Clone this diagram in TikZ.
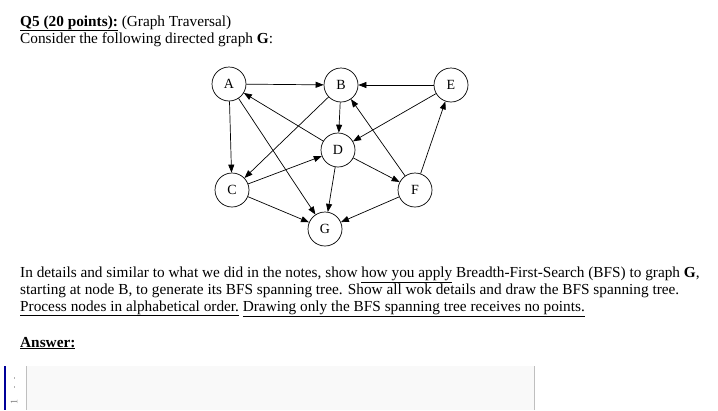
\documentclass[tikz,border=0pt]{standalone}
\usepackage{fontspec}
\setmainfont{Liberation Serif}
\usetikzlibrary{arrows.meta}
\newcommand\myul[1]{\underline{#1}}
\begin{document}
\begin{tikzpicture}[x=1pt,y=-1pt,
  vtx/.style={draw,circle,minimum size=34pt,inner sep=0pt,line width=0.7pt,font=\fontsize{14}{14}\selectfont},
  edge/.style={-{Triangle[length=8pt,width=6pt]},line width=0.7pt},
  txt/.style={anchor=base west,inner sep=0pt,font=\fontsize{15.3}{17}\selectfont}]
\useasboundingbox (0,0) rectangle (718,410);
\node[txt] (t1) at (20,26) {\textbf{\myul{Q5 (20 points):}} (Graph Traversal)};
\node[txt] (t2) at (20,43) {Consider the following directed graph \textbf{G}:};
\node[vtx] (A) at (229,84) {A};
\node[vtx] (B) at (341,85) {B};
\node[vtx] (E) at (451,85) {E};
\node[vtx] (D) at (338,150) {D};
\node[vtx] (C) at (232,190) {C};
\node[vtx] (F) at (415,190) {F};
\node[vtx] (G) at (325,229) {G};
\draw[edge] (A)--(B);
\draw[edge] (E)--(B);
\draw[edge] (A)--(C);
\draw[edge] (A)--(G);
\draw[edge] (B)--(D);
\draw[edge] (B)--(C);
\draw[edge] (D)--(A);
\draw[edge] (E)--(D);
\draw[edge] (C)--(D);
\draw[edge] (D)--(F);
\draw[edge] (D)--(G);
\draw[edge] (C)--(G);
\draw[edge] (F)--(B);
\draw[edge] (F)--(E);
\draw[edge] (F)--(G);
\node[txt] (p1) at (20,277) {In details and similar to what we did in the notes, show \myul{how you apply} Breadth-First-Search (BFS) to graph \textbf{G},};
\node[txt] (p2) at (20,294) {starting at node B, to generate its BFS spanning tree. Show all wok details and draw the BFS spanning tree.};
\node[txt] (p3) at (20,311) {\myul{Process nodes in alphabetical order.} \myul{Drawing only the BFS spanning tree receives no points.}};
\node[txt] (ans) at (20,347) {\textbf{\myul{Answer:}}};
\fill[gray!5] (26,366) rectangle (534,410);
\draw[gray!50] (26,366) -- (26,410);
\draw[gray!50] (534,366) -- (534,410);
\fill[blue!60!black] (4,366) rectangle (6,410);
\node[rotate=90,font=\fontsize{10}{10}\selectfont,text=gray] (n1) at (14,402) {1};
\draw[gray!60] (14,377) -- (14,379);
\draw[gray!60] (14,386) -- (14,388);
\end{tikzpicture}
\end{document}
